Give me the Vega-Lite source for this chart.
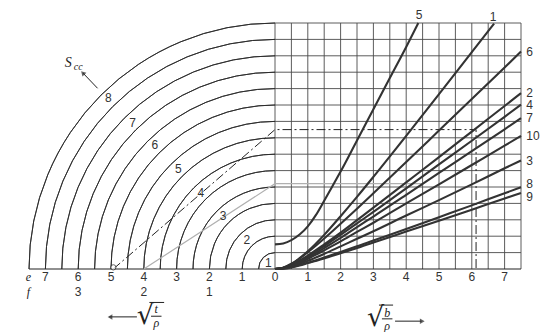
{
  "$schema": "https://vega.github.io/schema/vega-lite/v6.json",
  "width": 492,
  "height": 246,
  "autosize": {"type": "none"},
  "padding": {"left": 29, "top": 23, "right": 22, "bottom": 63},
  "background": "white",
  "config": {"view": {"stroke": null}},
  "datasets": {
    "one": [{"k": 1}],
    "arcs": [{"r":0.5},{"r":1},{"r":1.5},{"r":2},{"r":2.5},{"r":3},{"r":3.5},{"r":4},{"r":4.5},{"r":5},{"r":5.5},{"r":6},{"r":6.5},{"r":7},{"r":7.5}],
    "vgrid": [{"v":0},{"v":0.5},{"v":1},{"v":1.5},{"v":2},{"v":2.5},{"v":3},{"v":3.5},{"v":4},{"v":4.5},{"v":5},{"v":5.5},{"v":6},{"v":6.5},{"v":7},{"v":7.5}],
    "hgrid": [{"h":0.5},{"h":1},{"h":1.5},{"h":2},{"h":2.5},{"h":3},{"h":3.5},{"h":4},{"h":4.5},{"h":5},{"h":5.5},{"h":6},{"h":6.5},{"h":7},{"h":7.5}],
    "dash": [{"x":-4.93,"y":0,"o":1},{"x":0,"y":4.25,"o":2},{"x":6.13,"y":4.25,"o":3},{"x":6.13,"y":0,"o":4}],
    "gray": [{"x":-4.0,"y":0,"o":1},{"x":0,"y":2.6,"o":2},{"x":4.5,"y":2.6,"o":3}],
    "curves": [
      {"c":"1","x":0,"y":0},{"c":"1","x":0.25,"y":0.04},{"c":"1","x":0.5,"y":0.15},{"c":"1","x":0.75,"y":0.33},{"c":"1","x":1,"y":0.54},{"c":"1","x":1.5,"y":1.04},{"c":"1","x":2,"y":1.61},{"c":"1","x":2.5,"y":2.2},{"c":"1","x":3,"y":2.81},{"c":"1","x":4,"y":4.06},{"c":"1","x":5,"y":5.33},{"c":"1","x":6,"y":6.61},{"c":"1","x":6.68,"y":7.48},
      {"c":"5","x":0,"y":0.75},{"c":"5","x":0.25,"y":0.78},{"c":"5","x":0.5,"y":0.88},{"c":"5","x":0.75,"y":1.05},{"c":"5","x":1,"y":1.3},{"c":"5","x":1.25,"y":1.65},{"c":"5","x":1.5,"y":2.08},{"c":"5","x":1.75,"y":2.52},{"c":"5","x":2,"y":2.97},{"c":"5","x":2.5,"y":3.92},{"c":"5","x":3,"y":4.87},{"c":"5","x":3.5,"y":5.82},{"c":"5","x":4,"y":6.77},{"c":"5","x":4.37,"y":7.5},
      {"c":"6","x":0,"y":0},{"c":"6","x":0.25,"y":0.04},{"c":"6","x":0.5,"y":0.16},{"c":"6","x":0.75,"y":0.32},{"c":"6","x":1,"y":0.51},{"c":"6","x":1.5,"y":0.93},{"c":"6","x":2,"y":1.38},{"c":"6","x":2.5,"y":1.84},{"c":"6","x":3,"y":2.31},{"c":"6","x":4,"y":3.26},{"c":"6","x":5,"y":4.22},{"c":"6","x":6,"y":5.18},{"c":"6","x":7,"y":6.14},{"c":"6","x":7.5,"y":6.63},
      {"c":"2","x":0,"y":0},{"c":"2","x":0.25,"y":0.03},{"c":"2","x":0.5,"y":0.13},{"c":"2","x":0.75,"y":0.26},{"c":"2","x":1,"y":0.41},{"c":"2","x":1.5,"y":0.75},{"c":"2","x":2,"y":1.11},{"c":"2","x":2.5,"y":1.49},{"c":"2","x":3,"y":1.87},{"c":"2","x":4,"y":2.64},{"c":"2","x":5,"y":3.41},{"c":"2","x":6,"y":4.19},{"c":"2","x":7,"y":4.97},{"c":"2","x":7.5,"y":5.36},
      {"c":"4","x":0,"y":0},{"c":"4","x":0.25,"y":0.03},{"c":"4","x":0.5,"y":0.12},{"c":"4","x":0.75,"y":0.24},{"c":"4","x":1,"y":0.38},{"c":"4","x":1.5,"y":0.7},{"c":"4","x":2,"y":1.04},{"c":"4","x":2.5,"y":1.39},{"c":"4","x":3,"y":1.74},{"c":"4","x":4,"y":2.46},{"c":"4","x":5,"y":3.19},{"c":"4","x":6,"y":3.91},{"c":"4","x":7,"y":4.64},{"c":"4","x":7.5,"y":5.01},
      {"c":"7","x":0,"y":0},{"c":"7","x":0.25,"y":0.03},{"c":"7","x":0.5,"y":0.11},{"c":"7","x":0.75,"y":0.22},{"c":"7","x":1,"y":0.35},{"c":"7","x":1.5,"y":0.64},{"c":"7","x":2,"y":0.95},{"c":"7","x":2.5,"y":1.28},{"c":"7","x":3,"y":1.6},{"c":"7","x":4,"y":2.26},{"c":"7","x":5,"y":2.93},{"c":"7","x":6,"y":3.59},{"c":"7","x":7,"y":4.26},{"c":"7","x":7.5,"y":4.6},
      {"c":"10","x":0,"y":0},{"c":"10","x":0.25,"y":0.03},{"c":"10","x":0.5,"y":0.1},{"c":"10","x":0.75,"y":0.19},{"c":"10","x":1,"y":0.31},{"c":"10","x":1.5,"y":0.57},{"c":"10","x":2,"y":0.84},{"c":"10","x":2.5,"y":1.13},{"c":"10","x":3,"y":1.41},{"c":"10","x":4,"y":2.0},{"c":"10","x":5,"y":2.58},{"c":"10","x":6,"y":3.17},{"c":"10","x":7,"y":3.76},{"c":"10","x":7.5,"y":4.06},
      {"c":"3","x":0,"y":0},{"c":"3","x":0.25,"y":0.02},{"c":"3","x":0.5,"y":0.08},{"c":"3","x":0.75,"y":0.16},{"c":"3","x":1,"y":0.25},{"c":"3","x":1.5,"y":0.46},{"c":"3","x":2,"y":0.69},{"c":"3","x":2.5,"y":0.92},{"c":"3","x":3,"y":1.15},{"c":"3","x":4,"y":1.63},{"c":"3","x":5,"y":2.1},{"c":"3","x":6,"y":2.58},{"c":"3","x":7,"y":3.07},{"c":"3","x":7.5,"y":3.31},
      {"c":"8","x":0,"y":0},{"c":"8","x":0.25,"y":0.02},{"c":"8","x":0.5,"y":0.06},{"c":"8","x":0.75,"y":0.12},{"c":"8","x":1,"y":0.19},{"c":"8","x":1.5,"y":0.35},{"c":"8","x":2,"y":0.52},{"c":"8","x":2.5,"y":0.69},{"c":"8","x":3,"y":0.87},{"c":"8","x":4,"y":1.22},{"c":"8","x":5,"y":1.58},{"c":"8","x":6,"y":1.94},{"c":"8","x":7,"y":2.31},{"c":"8","x":7.5,"y":2.49},
      {"c":"9","x":0,"y":0},{"c":"9","x":0.25,"y":0.01},{"c":"9","x":0.5,"y":0.05},{"c":"9","x":0.75,"y":0.11},{"c":"9","x":1,"y":0.18},{"c":"9","x":1.5,"y":0.32},{"c":"9","x":2,"y":0.48},{"c":"9","x":2.5,"y":0.64},{"c":"9","x":3,"y":0.81},{"c":"9","x":4,"y":1.14},{"c":"9","x":5,"y":1.47},{"c":"9","x":6,"y":1.81},{"c":"9","x":7,"y":2.15},{"c":"9","x":7.5,"y":2.32}
    ],
    "nums": [
      {"t":"1","x":-0.2,"y":0.19},{"t":"2","x":-0.86,"y":0.88},{"t":"3","x":-1.58,"y":1.62},{"t":"4","x":-2.26,"y":2.31},{"t":"5","x":-2.95,"y":3.04},{"t":"6","x":-3.66,"y":3.78},{"t":"7","x":-4.34,"y":4.46},{"t":"8","x":-5.08,"y":5.2},
      {"t":"7","x":-7,"y":-0.24},{"t":"6","x":-6,"y":-0.24},{"t":"5","x":-5,"y":-0.24},{"t":"4","x":-4,"y":-0.24},{"t":"3","x":-3,"y":-0.24},{"t":"2","x":-2,"y":-0.24},{"t":"1","x":-1,"y":-0.24},{"t":"0","x":0,"y":-0.24},
      {"t":"1","x":1,"y":-0.24},{"t":"2","x":2,"y":-0.24},{"t":"3","x":3,"y":-0.24},{"t":"4","x":4,"y":-0.24},{"t":"5","x":5,"y":-0.24},{"t":"6","x":6,"y":-0.24},{"t":"7","x":7,"y":-0.24},
      {"t":"3","x":-6,"y":-0.7},{"t":"2","x":-4,"y":-0.7},{"t":"1","x":-2,"y":-0.7},
      {"t":"5","x":4.39,"y":7.74},{"t":"1","x":6.65,"y":7.68}
    ],
    "ends": [
      {"t":"6","x":7.66,"y":6.62},{"t":"2","x":7.66,"y":5.38},{"t":"4","x":7.66,"y":5.0},{"t":"7","x":7.66,"y":4.6},{"t":"10","x":7.66,"y":4.05},{"t":"3","x":7.66,"y":3.3},{"t":"8","x":7.66,"y":2.6},{"t":"9","x":7.66,"y":2.2}
    ],
    "ital": [
      {"t":"e","x":-7.52,"y":-0.24},{"t":"f","x":-7.52,"y":-0.69},
      {"t":"t","x":-3.62,"y":-1.23},{"t":"ρ","x":-3.62,"y":-1.65},{"t":"b","x":3.42,"y":-1.33},{"t":"ρ","x":3.42,"y":-1.74}
    ],
    "rad": [{"x":-3.95,"y":-1.42},{"x":3.07,"y":-1.5}],
    "bars": [
      {"x":-3.83,"x2":-3.38,"y":-1.02},{"x":-3.78,"x2":-3.46,"y":-1.44},
      {"x":3.17,"x2":3.6,"y":-1.1},{"x":3.26,"x2":3.58,"y":-1.52},
      {"x":-5.05,"x2":-4.21,"y":-1.46},{"x":3.66,"x2":4.47,"y":-1.59}
    ]
  },
  "layer": [
    {
      "data": {"name": "hgrid"},
      "mark": {"type": "rule", "color": "#4a4a4a", "strokeWidth": 0.9},
      "encoding": {
        "y": {"field": "h", "type": "quantitative", "scale": {"domain": [0, 7.5], "nice": false, "zero": false}, "axis": null},
        "x": {"datum": 0, "type": "quantitative", "scale": {"domain": [-7.5, 7.5], "nice": false, "zero": false}, "axis": null},
        "x2": {"datum": 7.5}
      }
    },
    {
      "data": {"name": "vgrid"},
      "mark": {"type": "rule", "color": "#4a4a4a", "strokeWidth": 0.9},
      "encoding": {
        "x": {"field": "v", "type": "quantitative", "axis": null},
        "y": {"datum": 0, "type": "quantitative", "axis": null},
        "y2": {"datum": 7.5}
      }
    },
    {
      "data": {"name": "arcs"},
      "mark": {"type": "arc", "theta": -1.5708, "theta2": 0, "fill": "transparent", "stroke": "#2a2a2a", "strokeWidth": 0.9},
      "encoding": {
        "x": {"datum": 0, "type": "quantitative", "axis": null},
        "y": {"datum": 0, "type": "quantitative", "axis": null},
        "radius": {"field": "r", "type": "quantitative", "scale": {"type": "linear", "domain": [0, 7.5], "range": [0, 246], "zero": true}},
        "radius2": {"field": "r"}
      }
    },
    {
      "data": {"name": "one"},
      "mark": {"type": "rule", "color": "#222", "strokeWidth": 1.1},
      "encoding": {
        "x": {"datum": -7.5, "type": "quantitative", "axis": null},
        "x2": {"datum": 7.5},
        "y": {"datum": 0, "type": "quantitative", "axis": null}
      }
    },
    {
      "data": {"name": "gray"},
      "mark": {"type": "line", "color": "#b0b0b0", "strokeWidth": 1.2},
      "encoding": {
        "x": {"field": "x", "type": "quantitative", "axis": null},
        "y": {"field": "y", "type": "quantitative", "axis": null},
        "order": {"field": "o"}
      }
    },
    {
      "data": {"name": "dash"},
      "mark": {"type": "line", "color": "#222", "strokeWidth": 1, "strokeDash": [9, 3, 2, 3]},
      "encoding": {
        "x": {"field": "x", "type": "quantitative", "axis": null},
        "y": {"field": "y", "type": "quantitative", "axis": null},
        "order": {"field": "o"}
      }
    },
    {
      "data": {"name": "curves"},
      "mark": {"type": "line", "color": "#333", "strokeWidth": 2.1, "interpolate": "monotone"},
      "encoding": {
        "x": {"field": "x", "type": "quantitative", "axis": null},
        "y": {"field": "y", "type": "quantitative", "axis": null},
        "detail": {"field": "c"}
      }
    },
    {
      "data": {"name": "one"},
      "mark": {"type": "point", "shape": "circle", "filled": true, "fill": "white", "stroke": "#222", "strokeWidth": 1, "size": 28},
      "encoding": {
        "x": {"datum": -4.93, "type": "quantitative", "axis": null},
        "y": {"datum": 0.05, "type": "quantitative", "axis": null}
      }
    },
    {
      "data": {"name": "nums"},
      "mark": {"type": "text", "font": "Liberation Sans", "fontSize": 12, "color": "#333", "align": "center", "baseline": "middle"},
      "encoding": {
        "x": {"field": "x", "type": "quantitative", "axis": null},
        "y": {"field": "y", "type": "quantitative", "axis": null},
        "text": {"field": "t"}
      }
    },
    {
      "data": {"name": "ends"},
      "mark": {"type": "text", "font": "Liberation Sans", "fontSize": 12, "color": "#333", "align": "left", "baseline": "middle"},
      "encoding": {
        "x": {"field": "x", "type": "quantitative", "axis": null},
        "y": {"field": "y", "type": "quantitative", "axis": null},
        "text": {"field": "t"}
      }
    },
    {
      "data": {"name": "ital"},
      "mark": {"type": "text", "font": "Liberation Serif", "fontStyle": "italic", "fontSize": 12, "color": "#222", "align": "center", "baseline": "middle"},
      "encoding": {
        "x": {"field": "x", "type": "quantitative", "axis": null},
        "y": {"field": "y", "type": "quantitative", "axis": null},
        "text": {"field": "t"}
      }
    },
    {
      "data": {"name": "one"},
      "mark": {"type": "text", "text": "S", "font": "Liberation Serif", "fontStyle": "italic", "fontSize": 14, "color": "#222", "align": "center", "baseline": "middle"},
      "encoding": {
        "x": {"datum": -6.3, "type": "quantitative", "axis": null},
        "y": {"datum": 6.28, "type": "quantitative", "axis": null}
      }
    },
    {
      "data": {"name": "one"},
      "mark": {"type": "text", "text": "cc", "font": "Liberation Serif", "fontStyle": "italic", "fontSize": 10, "color": "#222", "align": "center", "baseline": "middle"},
      "encoding": {
        "x": {"datum": -6.0, "type": "quantitative", "axis": null},
        "y": {"datum": 6.15, "type": "quantitative", "axis": null}
      }
    },
    {
      "data": {"name": "rad"},
      "mark": {"type": "text", "text": "√", "font": "DejaVu Sans", "fontSize": 27, "color": "#222", "align": "center", "baseline": "middle"},
      "encoding": {
        "x": {"field": "x", "type": "quantitative", "axis": null},
        "y": {"field": "y", "type": "quantitative", "axis": null}
      }
    },
    {
      "data": {"name": "bars"},
      "mark": {"type": "rule", "color": "#222", "strokeWidth": 1},
      "encoding": {
        "x": {"field": "x", "type": "quantitative", "axis": null},
        "x2": {"field": "x2"},
        "y": {"field": "y", "type": "quantitative", "axis": null}
      }
    },
    {
      "data": {"name": "one"},
      "mark": {"type": "rule", "color": "#222", "strokeWidth": 1},
      "encoding": {
        "x": {"datum": -5.41, "type": "quantitative", "axis": null},
        "y": {"datum": 5.51, "type": "quantitative", "axis": null},
        "x2": {"datum": -5.85},
        "y2": {"datum": 5.97}
      }
    },
    {
      "data": {"name": "one"},
      "mark": {"type": "point", "shape": "triangle-up", "angle": -44, "filled": true, "color": "#222", "size": 30},
      "encoding": {
        "x": {"datum": -5.86, "type": "quantitative", "axis": null},
        "y": {"datum": 5.98, "type": "quantitative", "axis": null}
      }
    },
    {
      "data": {"name": "one"},
      "mark": {"type": "point", "shape": "triangle-left", "filled": true, "color": "#222", "size": 30},
      "encoding": {
        "x": {"datum": -5.03, "type": "quantitative", "axis": null},
        "y": {"datum": -1.46, "type": "quantitative", "axis": null}
      }
    },
    {
      "data": {"name": "one"},
      "mark": {"type": "point", "shape": "triangle-right", "filled": true, "color": "#222", "size": 30},
      "encoding": {
        "x": {"datum": 4.49, "type": "quantitative", "axis": null},
        "y": {"datum": -1.59, "type": "quantitative", "axis": null}
      }
    }
  ]
}
